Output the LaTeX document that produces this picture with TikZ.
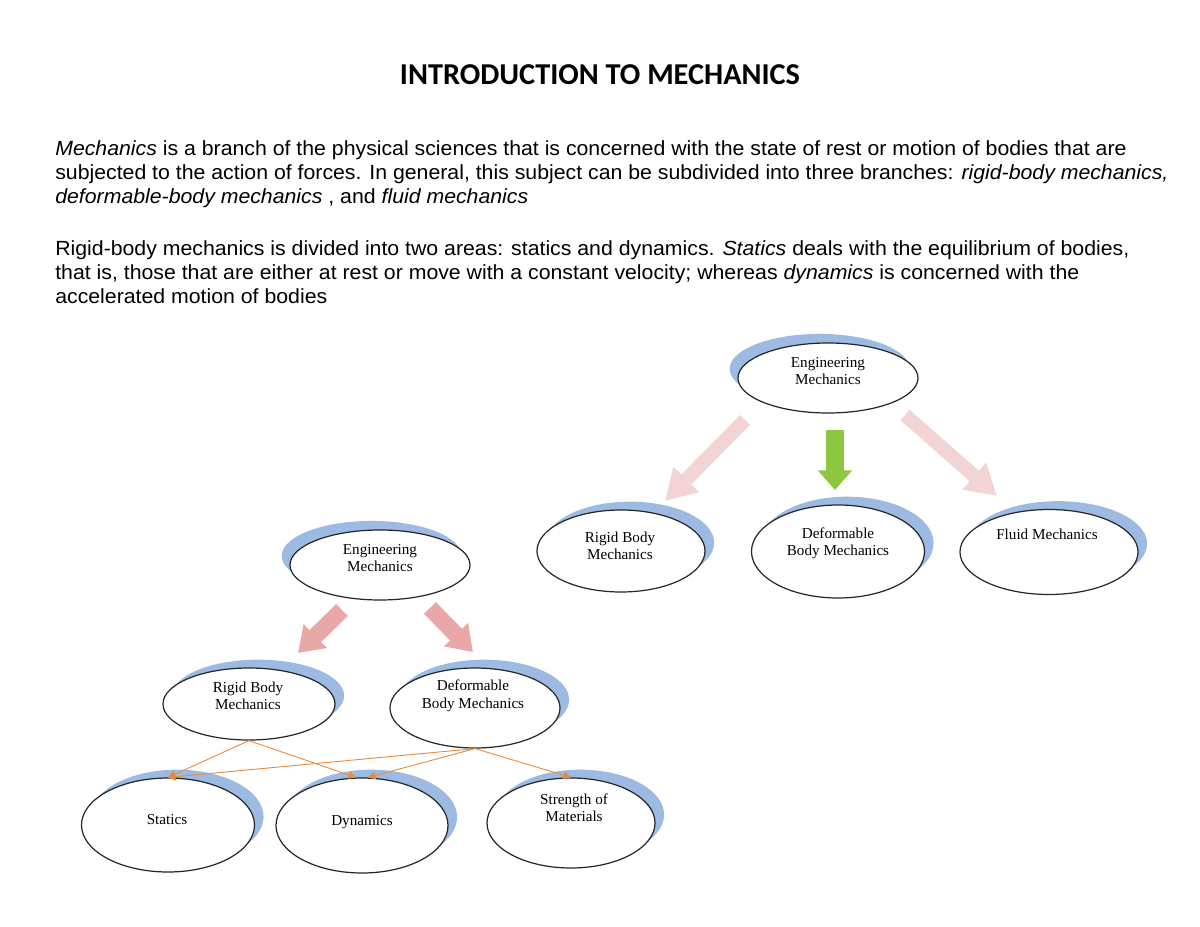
\documentclass[tikz,border=0pt]{standalone}
\usepackage{fontspec}
\setmainfont{Liberation Sans}
\newfontfamily\bubblefont{Liberation Serif}
\newfontfamily\headfont{Carlito}
\newfontfamily\bodyfont[FakeStretch=1.04]{Liberation Sans}
\usetikzlibrary{shapes.geometric,shadows,arrows.meta,calc}

\definecolor{crescent}{RGB}{156,186,226}
\definecolor{rosepale}{RGB}{243,212,212}
\definecolor{rosedeep}{RGB}{232,168,168}
\definecolor{leafgreen}{RGB}{141,198,63}
\definecolor{feedorange}{RGB}{230,140,60}

\tikzset{
  bubble/.style={ellipse, draw=black!85, line width=0.8pt, fill=white, inner sep=0pt},
  bsize/.style 2 args={minimum width=#1*0.66pt, minimum height=#2*0.66pt},
  shadeleft/.style={general shadow={fill=crescent, shadow xshift=-5.5pt, shadow yshift=6pt}},
  shaderight/.style={general shadow={fill=crescent, shadow xshift=6pt, shadow yshift=5.5pt}},
  bubtext/.style={font=\bubblefont\fontsize{10}{11.5}\selectfont, align=center, inner sep=0pt},
  bodyline/.style={anchor=base west, inner sep=0pt, font=\bodyfont\fontsize{13.5}{16}\selectfont},
  fatpale/.style={line width=9.2pt, draw=rosepale, -{Triangle[length=20pt,width=22.4pt]}},
  fatrose/.style={line width=11pt, draw=rosedeep, -{Triangle[length=16pt,width=21pt]}},
  fatgreen/.style={line width=12pt, draw=leafgreen, -{Triangle[length=13pt,width=22pt]}},
  feed/.style={draw=feedorange, line width=0.6pt, -{Triangle[length=5pt,width=5pt]}}
}

\begin{document}
\begin{tikzpicture}[x=0.66pt, y=-0.66pt]
  \useasboundingbox (0,0) rectangle (1200,927);

  % heading and text
  \node[font=\headfont\bfseries\fontsize{20}{24}\selectfont] (title) at (600,75) {INTRODUCTION TO MECHANICS};

  \node[bodyline] (p1a) at (55,155) {\textit{Mechanics} is a branch of the physical sciences that is concerned with the state of rest or motion of bodies that are};
  \node[bodyline] (p1b) at (55,179) {subjected to the action of forces. In general, this subject can be subdivided into three branches: \textit{rigid-body mechanics,}};
  \node[bodyline] (p1c) at (55,203) {\textit{deformable-body mechanics} , and \textit{fluid mechanics}};
  \node[bodyline] (p2a) at (55,255) {Rigid-body mechanics is divided into two areas: statics and dynamics. \textit{Statics} deals with the equilibrium of bodies,};
  \node[bodyline] (p2b) at (55,279) {that is, those that are either at rest or move with a constant velocity; whereas \textit{dynamics} is concerned with the};
  \node[bodyline] (p2c) at (55,303) {accelerated motion of bodies};

  % first chart: three branches
  \node[bubble, shadeleft, bsize={180}{70}] (emA) at (828,378) {};
  \node[bubble, shaderight, bsize={168}{82}] (rigidA) at (621,551) {};
  \node[bubble, shaderight, bsize={173}{93}] (defA) at (838,551.5) {};
  \node[bubble, shaderight, bsize={178}{85}] (fluidA) at (1049,552) {};

  \node[bubtext] (emAtxt) at ($(emA)+(0,-7)$) {Engineering\\Mechanics};
  \node[bubtext] (rigidAtxt) at ($(rigidA)+(-1,-5)$) {Rigid Body\\Mechanics};
  \node[bubtext] (defAtxt) at ($(defA)+(0,-8)$) {Deformable\\Body Mechanics};
  \node[bubtext] (fluidAtxt) at ($(fluidA)+(-2,-18)$) {Fluid Mechanics};

  \draw[fatpale] ($(emA)+(-83,42)$) -- ($(rigidA)+(44,-50)$);
  \draw[fatgreen] ($(emA)+(7,52)$) -- ($(defA)+(-3,-61.5)$);
  \draw[fatpale] ($(emA)+(77,37)$) -- ($(fluidA)+(-52,-56)$);

  % second chart: rigid and deformable bodies
  \node[bubble, shadeleft, bsize={180}{70}] (emB) at (380,565) {};
  \node[bubble, shaderight, bsize={172}{72}] (rigidB) at (249,704) {};
  \node[bubble, shaderight, bsize={170}{80}] (defB) at (475,708) {};
  \node[bubble, shaderight, bsize={173}{94}] (statics) at (168,825) {};
  \node[bubble, shaderight, bsize={172}{95}] (dynamics) at (362,825.5) {};
  \node[bubble, shaderight, bsize={168}{90}] (strength) at (571,823) {};

  \node[bubtext] (emBtxt) at ($(emB)+(0,-7)$) {Engineering\\Mechanics};
  \node[bubtext] (rigidBtxt) at ($(rigidB)+(-1,-8)$) {Rigid Body\\Mechanics};
  \node[bubtext] (defBtxt) at ($(defB)+(-2,-12)$) {Deformable\\Body Mechanics};
  \node[bubtext] (staticstxt) at ($(statics)+(-1,-5)$) {Statics};
  \node[bubtext] (dynamicstxt) at ($(dynamics)+(0,-3)$) {Dynamics};
  \node[bubtext] (strengthtxt) at ($(strength)+(3,-15)$) {Strength of\\Materials};

  \draw[fatrose] ($(emB)+(-38,45)$) -- ($(rigidB)+(49,-51)$);
  \draw[fatrose] ($(emB)+(50,43)$) -- ($(defB)+(-2,-56)$);

  \draw[feed] (rigidB.south) -- (statics.north);
  \draw[feed] (rigidB.south) -- (dynamics.97);
  \draw[feed] (defB.south) -- (statics.north);
  \draw[feed] (defB.south) -- (dynamics.83);
  \draw[feed] (defB.south) -- (strength.north);
\end{tikzpicture}
\end{document}
